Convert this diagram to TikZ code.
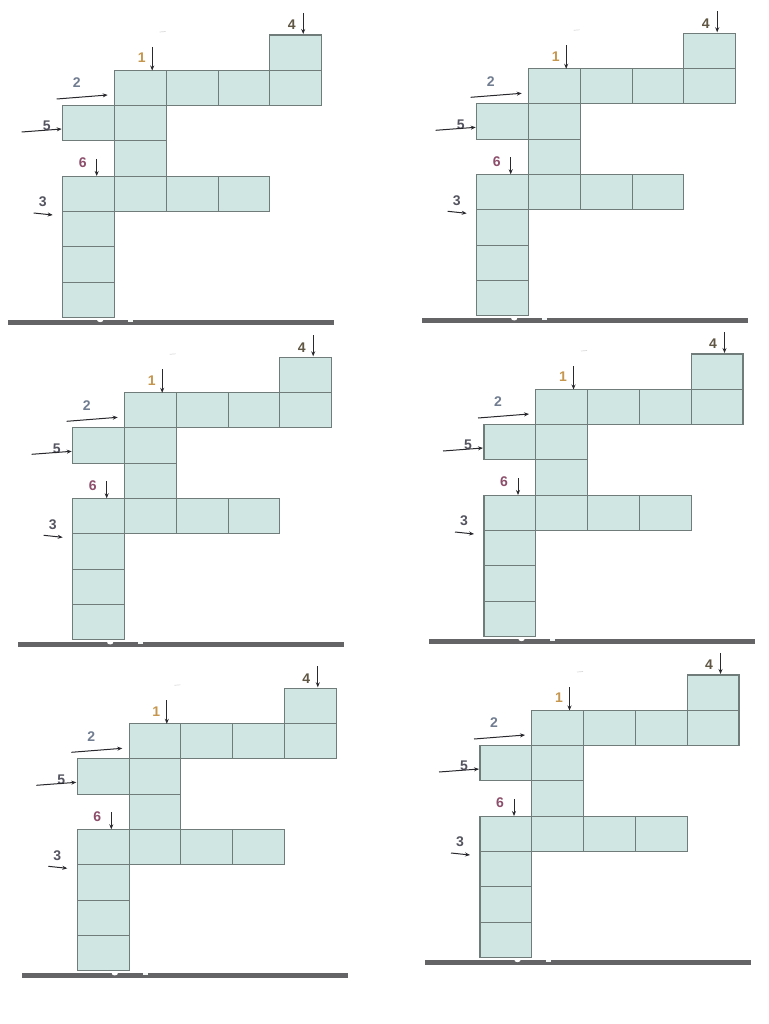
\documentclass[tikz,border=0pt]{standalone}
\usepackage{fontspec}
\setmainfont{Liberation Sans}
\usetikzlibrary{arrows.meta}

\definecolor{cellfill}{RGB}{207,230,227}
\definecolor{cellline}{RGB}{112,124,122}
\definecolor{bargray}{RGB}{100,100,102}
\definecolor{ptrgray}{RGB}{40,40,45}
\definecolor{numgold}{RGB}{196,150,78}
\definecolor{numblue}{RGB}{112,124,144}
\definecolor{numbrown}{RGB}{96,86,68}
\definecolor{numdark}{RGB}{84,84,96}
\definecolor{numred}{RGB}{140,78,106}

\tikzset{
  cell/.style={draw=cellline, fill=cellfill, line width=1.1pt},
  num/.style={inner sep=0pt, font=\fontsize{14}{14}\selectfont\bfseries},
  ptr/.style={draw=ptrgray, line width=1pt, -{Stealth[length=5pt,width=4pt]}},
  floor/.style={fill=bargray}
}

% one grid: #1 name prefix, (#2,#3) top left corner of column 0 / top row
\newcommand{\crossgrid}[3]{%
  \begin{scope}[shift={(#2,#3)}, name prefix=#1-]
    \foreach \c/\r in {4/0,1/1,2/1,3/1,4/1,0/2,1/2,1/3,0/4,1/4,2/4,3/4,0/5,0/6,0/7}
      \draw[cell] (\c*51.8,\r*35.3) rectangle ++(51.8,35.3);
    % floor line
    \fill[floor] (-55,285) rectangle (271,290);
    \fill[white] (37.5,285.3) ellipse (3 and 1.8);
    \fill[white!80!cellfill] (65.5,284.6) rectangle (70.5,287);
    \draw[black!15, line width=0.7pt] (97,-3) -- (103,-3.5);
    % numbers
    \node[num, text=numgold]  (n1) at (79,23)   {1};
    \node[num, text=numblue]  (n2) at (14,48)   {2};
    \node[num, text=numdark]  (n3) at (-20,167) {3};
    \node[num, text=numbrown] (n4) at (229,-10) {4};
    \node[num, text=numdark]  (n5) at (-16,91)  {5};
    \node[num, text=numred]   (n6) at (20,128)  {6};
    % pointers
    \coordinate (s1) at (89.5,12);  \coordinate (e1) at (89.5,35.5);
    \coordinate (s2) at (-6,64);    \coordinate (e2) at (45,60);
    \coordinate (s3) at (-29,178);  \coordinate (e3) at (-10,180);
    \coordinate (s4) at (240.5,-22);\coordinate (e4) at (240.5,-1);
    \coordinate (s5) at (-41,97);   \coordinate (e5) at (-1,94);
    \coordinate (s6) at (34,124);   \coordinate (e6) at (34,141);
    \foreach \k in {1,...,6}
      \draw[ptr] (s\k) -- (e\k);
  \end{scope}}

\begin{document}
\begin{tikzpicture}[x=1pt,y=-1pt]
  \useasboundingbox (0,0) rectangle (768,1024);
  \crossgrid{ga}{62.7}{35}
  \crossgrid{gb}{476.7}{33.3}
  \crossgrid{gc}{72.7}{357.3}
  \crossgrid{gd}{484}{354}
  \crossgrid{ge}{77.3}{688.3}
  \crossgrid{gf}{480}{675}
\end{tikzpicture}
\end{document}
